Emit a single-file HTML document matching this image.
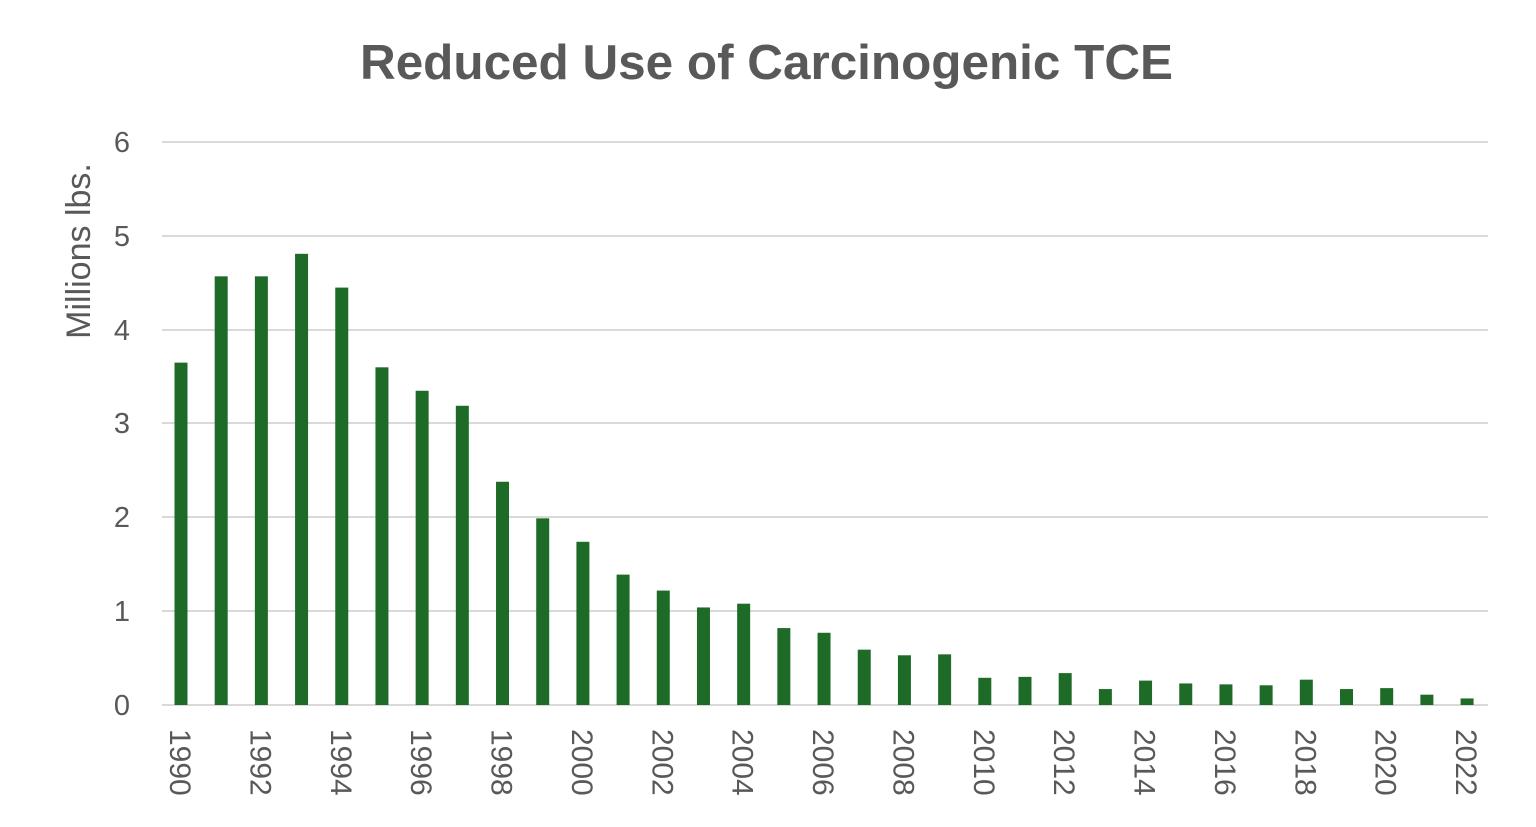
<!DOCTYPE html>
<html><head><style>body{margin:0;background:#fff}svg{display:block}</style></head><body>
<svg width="1536" height="827" xmlns="http://www.w3.org/2000/svg" font-family="Liberation Sans, sans-serif">
<text x="360" y="79" textLength="813" lengthAdjust="spacingAndGlyphs" font-size="49" font-weight="bold" fill="#595959">Reduced Use of Carcinogenic TCE</text>
<g stroke="#d9d9d9" stroke-width="2">
<line x1="162" x2="1488" y1="142" y2="142"/><line x1="162" x2="1488" y1="236" y2="236"/><line x1="162" x2="1488" y1="330" y2="330"/><line x1="162" x2="1488" y1="423" y2="423"/><line x1="162" x2="1488" y1="517" y2="517"/><line x1="162" x2="1488" y1="611" y2="611"/><line x1="162" x2="1488" y1="705" y2="705"/>
</g>
<g font-size="29" fill="#595959" text-anchor="end">
<text x="130" y="152">6</text><text x="130" y="246">5</text><text x="130" y="340">4</text><text x="130" y="433">3</text><text x="130" y="527">2</text><text x="130" y="621">1</text><text x="130" y="715">0</text>
</g>
<text transform="translate(90,251) rotate(-90)" text-anchor="middle" font-size="34" fill="#595959">Millions lbs.</text>
<g id="bars" fill="#1e6b28"></g>
<g id="labels" font-size="30" fill="#595959"></g>
<script>
var v=[3.65,4.57,4.57,4.81,4.45,3.6,3.35,3.19,2.38,1.99,1.74,1.39,1.22,1.04,1.08,0.82,0.77,0.59,0.53,0.54,0.29,0.3,0.34,0.17,0.26,0.23,0.22,0.21,0.27,0.17,0.18,0.11,0.07];
var b=document.getElementById('bars'),l=document.getElementById('labels'),ns='http://www.w3.org/2000/svg';
v.forEach(function(d,i){var cx=181+i*40.19,h=d*93.8;var r=document.createElementNS(ns,'rect');
r.setAttribute('x',cx-6.5);r.setAttribute('y',705-h);r.setAttribute('width',13);r.setAttribute('height',h);b.appendChild(r);
if(i%2==0){var t=document.createElementNS(ns,'text');t.setAttribute('transform','translate('+(cx-11)+',729) rotate(90)');t.textContent=1990+i;l.appendChild(t);}});
</script>
</svg>
</body></html>
